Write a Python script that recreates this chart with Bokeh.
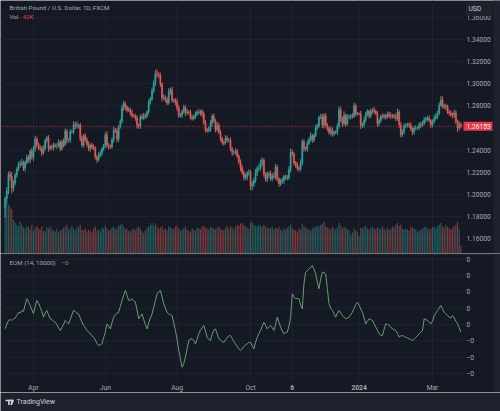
from bokeh.plotting import figure
from bokeh.models import Range1d, ColumnDataSource
from bokeh.layouts import column
from bokeh.core.properties import value
from bokeh.embed import file_html
from bokeh.resources import INLINE

# ---------------- data ----------------
first_open = 1.1880
closes = [
    1.1960, 1.2030, 1.2180, 1.2160, 1.2055, 1.2100, 1.2175, 1.2225, 1.2270, 1.2275,
    1.2285, 1.2235, 1.2290, 1.2335, 1.2310, 1.2390, 1.2335, 1.2410, 1.2500, 1.2455,
    1.2420, 1.2415, 1.2375, 1.2415, 1.2490, 1.2510, 1.2415, 1.2430, 1.2420, 1.2445,
    1.2440, 1.2440, 1.2470, 1.2415, 1.2475, 1.2450, 1.2570, 1.2490, 1.2490, 1.2565,
    1.2565, 1.2630, 1.2615, 1.2625, 1.2625, 1.2505, 1.2445, 1.2530, 1.2490, 1.2450,
    1.2415, 1.2445, 1.2425, 1.2415, 1.2340, 1.2315, 1.2350, 1.2370, 1.2410, 1.2440,
    1.2535, 1.2445, 1.2435, 1.2430, 1.2490, 1.2580, 1.2575, 1.2500, 1.2610, 1.2660,
    1.2780, 1.2820, 1.2790, 1.2760, 1.2765, 1.2735, 1.2710, 1.2710, 1.2690, 1.2625,
    1.2615, 1.2700, 1.2690, 1.2710, 1.2705, 1.2745, 1.2835, 1.2860, 1.2935, 1.3005,
    1.3090, 1.3085, 1.3075, 1.2995, 1.2870, 1.2875, 1.2855, 1.2825, 1.2925, 1.2945,
    1.2850, 1.2850, 1.2835, 1.2780, 1.2710, 1.2715, 1.2750, 1.2785, 1.2735, 1.2745,
    1.2740, 1.2700, 1.2685, 1.2705, 1.2725, 1.2740, 1.2735, 1.2750, 1.2725, 1.2650,
    1.2585, 1.2575, 1.2590, 1.2640, 1.2705, 1.2665, 1.2585, 1.2625, 1.2560, 1.2505,
    1.2470, 1.2465, 1.2510, 1.2490, 1.2490, 1.2410, 1.2380, 1.2380, 1.2390, 1.2345,
    1.2295, 1.2240, 1.2195, 1.2150, 1.2155, 1.2195, 1.2200, 1.2075, 1.2090, 1.2125,
    1.2195, 1.2235, 1.2235, 1.2290, 1.2305, 1.2185, 1.2135, 1.2180, 1.2185, 1.2140,
    1.2165, 1.2160, 1.2245, 1.2140, 1.2095, 1.2120, 1.2125, 1.2160, 1.2150, 1.2150,
    1.2225, 1.2380, 1.2365, 1.2285, 1.2270, 1.2235, 1.2230, 1.2285, 1.2475, 1.2415,
    1.2410, 1.2460, 1.2495, 1.2530, 1.2490, 1.2530, 1.2605, 1.2620, 1.2695, 1.2700,
    1.2625, 1.2710, 1.2630, 1.2595, 1.2560, 1.2580, 1.2545, 1.2560, 1.2560, 1.2615,
    1.2765, 1.2680, 1.2640, 1.2715, 1.2635, 1.2700, 1.2700, 1.2710, 1.2705, 1.2800,
    1.2730, 1.2730, 1.2730, 1.2620, 1.2630, 1.2670, 1.2720, 1.2750, 1.2710, 1.2750,
    1.2760, 1.2750, 1.2730, 1.2640, 1.2665, 1.2705, 1.2700, 1.2710, 1.2700, 1.2725,
    1.2710, 1.2705, 1.2710, 1.2700, 1.2685, 1.2745, 1.2630, 1.2540, 1.2570, 1.2620,
    1.2620, 1.2630, 1.2625, 1.2590, 1.2565, 1.2600, 1.2600, 1.2600, 1.2630, 1.2625,
    1.2645, 1.2670, 1.2685, 1.2690, 1.2665, 1.2625, 1.2655, 1.2690, 1.2705, 1.2735,
    1.2805, 1.2855, 1.2800, 1.2790, 1.2795, 1.2745, 1.2735, 1.2720, 1.2715, 1.2735,
    1.2655, 1.2600, 1.2635, 1.26153,
]
# upper / lower wick lengths in pips
wick_up = [
    20, 35, 25, 30, 40, 25, 15, 20, 25, 30, 35, 20, 15, 25, 20, 15, 30, 25, 30, 20,
    15, 25, 20, 30, 15, 20, 25, 15, 20, 25, 15, 20, 25, 20, 15, 30, 25, 20, 15, 25,
    20, 30, 25, 35, 15, 20, 25, 15, 20, 25, 30, 15, 20, 25, 20, 15, 30, 25, 20, 15,
    25, 35, 20, 15, 25, 30, 20, 25, 15, 20, 30, 25, 20, 15, 25, 20, 30, 15, 20, 25,
    15, 20, 30, 25, 20, 15, 25, 20, 30, 25, 35, 40, 20, 25, 15, 30, 20, 25, 35, 20,
    25, 15, 20, 30, 25, 20, 15, 25, 20, 30, 15, 25, 20, 15, 25, 20, 30, 15, 20, 25,
    20, 15, 25, 30, 20, 25, 15, 30, 20, 25, 15, 20, 25, 20, 15, 25, 20, 15, 25, 20,
    15, 20, 25, 20, 30, 15, 25, 20, 30, 25, 35, 20, 40, 25, 30, 20, 15, 25, 20, 30,
    25, 35, 30, 20, 15, 20, 25, 15, 20, 25, 30, 35, 25, 20, 15, 25, 20, 30, 25, 20,
    15, 25, 20, 30, 15, 20, 25, 20, 15, 25, 30, 20, 25, 15, 20, 30, 25, 15, 20, 25,
    30, 25, 20, 35, 15, 25, 20, 15, 25, 30, 20, 15, 10, 25, 20, 30, 25, 20, 15, 25,
    20, 30, 15, 25, 20, 15, 25, 20, 15, 25, 20, 30, 15, 20, 25, 30, 20, 25, 15, 20,
    25, 15, 20, 25, 15, 20, 25, 15, 20, 25, 20, 30, 15, 20, 25, 15, 20, 25, 30, 20,
    25, 35, 30, 20, 25, 15, 20, 25, 20, 30, 25, 20, 30, 15,
]
wick_dn = [
    90, 40, 30, 35, 45, 30, 20, 25, 15, 30, 20, 25, 30, 20, 25, 30, 20, 35, 25, 30,
    20, 25, 30, 15, 20, 25, 30, 20, 15, 25, 20, 30, 15, 25, 20, 25, 15, 30, 20, 25,
    15, 20, 25, 20, 30, 25, 20, 25, 15, 20, 25, 30, 20, 15, 25, 30, 20, 15, 25, 20,
    20, 25, 30, 20, 15, 25, 20, 30, 25, 15, 20, 25, 30, 20, 15, 25, 20, 15, 25, 30,
    20, 25, 15, 20, 25, 15, 20, 25, 15, 20, 25, 30, 20, 25, 30, 20, 25, 20, 15, 25,
    20, 25, 30, 25, 20, 15, 25, 20, 30, 15, 20, 25, 20, 15, 25, 20, 15, 25, 30, 20,
    25, 20, 15, 25, 30, 20, 25, 20, 15, 25, 20, 25, 15, 20, 25, 20, 30, 25, 20, 15,
    25, 30, 20, 25, 20, 30, 25, 35, 40, 25, 20, 30, 25, 20, 35, 30, 20, 25, 30, 20,
    25, 20, 30, 25, 30, 20, 25, 30, 20, 25, 20, 25, 20, 25, 30, 20, 25, 20, 25, 30,
    20, 25, 15, 20, 25, 20, 15, 25, 20, 15, 25, 30, 20, 25, 20, 30, 25, 20, 15, 25,
    20, 25, 30, 20, 25, 15, 20, 25, 20, 15, 25, 20, 15, 30, 20, 25, 20, 15, 25, 20,
    25, 20, 15, 30, 25, 20, 15, 20, 25, 15, 20, 25, 20, 15, 25, 20, 30, 25, 20, 25,
    20, 15, 25, 20, 30, 25, 20, 15, 20, 25, 15, 20, 25, 20, 15, 25, 20, 15, 20, 25,
    20, 15, 25, 20, 30, 20, 25, 20, 30, 25, 20, 35, 25, 20,
]
# volume in thousands
volume_k = [
    250, 265, 255, 245, 230, 175, 160, 150, 140, 165, 150, 135, 130, 145, 140, 125, 150, 120, 135, 145,
    130, 125, 140, 120, 115, 135, 130, 140, 125, 120, 115, 130, 110, 120, 125, 135, 140, 150, 125, 130,
    145, 130, 120, 135, 140, 150, 125, 120, 130, 115, 125, 120, 110, 130, 140, 120, 125, 115, 135, 130,
    145, 130, 120, 125, 135, 140, 125, 130, 145, 150, 155, 140, 125, 130, 120, 115, 125, 130, 120, 135,
    140, 130, 115, 105, 120, 135, 140, 150, 160, 145, 155, 140, 130, 135, 145, 125, 130, 120, 140, 135,
    130, 125, 140, 145, 130, 120, 125, 130, 140, 125, 120, 115, 130, 125, 120, 135, 130, 125, 140, 145,
    135, 130, 125, 140, 135, 130, 125, 135, 140, 130, 125, 120, 135, 145, 130, 140, 135, 125, 140, 150,
    145, 155, 160, 150, 140, 135, 130, 160, 165, 150, 145, 140, 150, 145, 135, 150, 140, 130, 135, 130,
    140, 125, 135, 130, 140, 125, 120, 130, 125, 135, 140, 150, 130, 125, 120, 115, 130, 125, 155, 140,
    135, 130, 125, 120, 130, 140, 135, 145, 140, 150, 155, 165, 140, 135, 130, 125, 140, 130, 125, 135,
    160, 145, 130, 140, 135, 125, 120, 95, 110, 130, 120, 115, 90, 135, 130, 140, 145, 130, 125, 135,
    140, 130, 125, 135, 130, 125, 140, 130, 120, 135, 125, 130, 140, 135, 150, 160, 145, 150, 130, 125,
    130, 125, 120, 140, 135, 130, 125, 115, 120, 125, 130, 135, 140, 130, 125, 130, 135, 140, 130, 145,
    150, 160, 140, 135, 150, 140, 130, 125, 135, 140, 150, 165, 130, 42,
]
# EOM (14, 10000), in units of one axis step
eom = [
    -0.26, 0.0, 0.25, 0.3, 0.25, 0.35, 0.4, 0.55, 0.75, 0.7,
    0.86, 0.8, 1.2, 1.58, 1.4, 1.17, 0.9, 0.67, 1.1, 1.47,
    1.3, 1.06, 0.8, 0.45, 0.7, 0.86, 0.6, 0.35, 0.3, 0.2,
    0.14, 0.0, -0.2, -0.37, -0.2, 0.0, 0.25, 0.15, 0.04, 0.3,
    0.6, 0.86, 0.8, 0.7, 0.65, 0.4, 0.15, -0.06, -0.2, -0.35,
    -0.47, -0.55, -0.7, -0.78, -0.95, -1.15, -1.29, -1.25, -1.19, -0.8,
    -0.47, 0.04, -0.1, -0.27, 0.1, 0.45, 0.6, 0.7, 0.75, 1.1,
    1.47, 1.8, 2.09, 1.8, 1.47, 1.5, 1.58, 1.45, 1.38, 0.9,
    0.35, 0.5, 0.65, 0.3, 0.0, -0.27, 0.1, 0.4, 0.65, 1.05,
    1.47, 1.88, 2.0, 2.09, 1.7, 1.27, 1.0, 0.75, 0.65, 0.6,
    0.55, 0.1, -0.37, -0.9, -1.6, -2.1, -2.62, -2.4, -2.0, -1.5,
    -0.98, -0.9, -0.88, -1.0, -1.19, -0.9, -0.57, -0.35, -0.2, -0.06,
    -0.4, -0.78, -0.9, -0.98, -0.6, -0.35, -0.27, -0.55, -0.88, -0.95,
    -1.05, -1.09, -0.95, -0.8, -0.7, -0.68, -0.85, -1.05, -1.19, -1.35,
    -1.5, -1.6, -1.5, -1.35, -1.25, -1.19, -1.1, -1.09, -1.3, -1.49,
    -1.1, -0.78, -0.55, -0.37, -0.1, 0.14, -0.05, -0.27, -0.15, -0.06,
    -0.2, -0.37, 0.0, 0.45, 0.15, -0.16, -0.4, -0.57, -0.5, -0.47,
    -0.1, 0.45, 1.88, 1.7, 1.58, 1.6, 1.58, 1.2, 0.96, 2.5,
    3.21, 3.3, 3.42, 3.5, 3.62, 3.4, 3.11, 2.6, 2.19, 2.8,
    3.21, 3.2, 3.11, 2.2, 1.27, 1.0, 0.86, 0.65, 0.45, 0.7,
    0.86, 0.7, 0.55, 0.45, 0.35, 0.4, 0.45, 0.6, 0.75, 1.0,
    1.2, 1.37, 1.2, 0.95, 0.75, 0.4, 0.04, 0.2, 0.35, 0.3,
    0.25, 0.05, -0.16, -0.35, -0.57, -0.65, -0.68, -0.3, 0.04, 0.0,
    -0.06, -0.15, -0.27, -0.3, -0.37, -0.55, -0.78, -0.7, -0.68, -0.72,
    -0.78, -0.82, -0.88, -0.92, -0.98, -0.9, -0.78, -0.68, -0.57, -0.45,
    -0.37, 0.35, 0.3, 0.25, 0.15, 0.04, 0.2, 0.55, 0.7, 0.86,
    1.0, 1.17, 0.95, 0.75, 0.65, 0.55, 0.45, 0.4, 0.55, 0.4,
    0.2, 0.04, -0.2, -0.47,
]
# time axis: bar index of each labelled date
time_ticks = [17, 60, 103, 147, 172, 212, 256]
time_labels = ["Apr", "Jun", "Aug", "Oct", "6", "2024", "Mar"]
time_bold = [False, False, False, False, True, True, False]
price_ticks = [1.16, 1.18, 1.20, 1.22, 1.24, 1.26, 1.28, 1.30, 1.32, 1.34, 1.36]
eom_ticks = [-3, -2, -1, 0, 1, 2, 3, 4]
eom_tick_labels = ["\u22120", "\u22120", "\u22120", "0", "0", "0", "0", "0"]
last_price = 1.26153
last_volume = "42K"
eom_last = "\u22120"

# ---------------- styling / layout constants ----------------
BG = "#151924"
FOOT = "#1e222d"
GRID = "#1f2331"
SEP = "#2a2e39"
TXT = "#a6a9b2"
UP = "#26a69a"
DN = "#ef5350"
RED = "#f23645"
EOM_C = "#65a06c"
FONT = "Roboto"
W = 500
H1, H2, H3 = 253, 139, 19
PANE_R = 463       # right edge of plotting area (px)
AX_L = 466         # left of price-scale labels (px)
BORDER = 493       # start of outer border strip (px)

BAR_PX = 1.6695    # px per bar
X0 = -2.77
X1 = X0 + W / BAR_PX
P_TOP, P_PX = 1.37527, 1105.6      # price at top edge, px per price unit
E_TOP, E_PX = 4.356, 16.3          # EOM at top edge of its pane, px per unit


def px2x(px):
    return X0 + px / BAR_PX


def py2p(py):
    return P_TOP - py / P_PX


def py2e(py):
    return E_TOP - py / E_PX


n = len(closes)
idx = list(range(n))
opens = [first_open] + closes[:-1]
highs = [max(o, c) + u * 0.0001 for o, c, u in zip(opens, closes, wick_up)]
lows = [min(o, c) - d * 0.0001 for o, c, d in zip(opens, closes, wick_dn)]
colors = [UP if c >= o else DN for o, c in zip(opens, closes)]
src = ColumnDataSource(dict(x=idx, high=highs, low=lows,
                            top=[max(o, c) for o, c in zip(opens, closes)],
                            bottom=[min(o, c) for o, c in zip(opens, closes)],
                            color=colors, vol=volume_k))

xr = Range1d(X0, X1)


def make_fig(h, yr, bg=BG):
    f = figure(width=W, height=h, x_range=xr, y_range=yr, x_axis_location=None,
               y_axis_location=None, toolbar_location=None, output_backend="svg",
               min_border=0, background_fill_color=bg, border_fill_color=bg,
               outline_line_color=None)
    f.grid.visible = False
    return f


def txt(fig, xs, ys, texts, color=TXT, size="6.7px", style="normal", align="left"):
    fig.text(x=xs, y=ys, text=texts, text_font=value(FONT), text_font_size=size,
             text_color=color, text_font_style=style, text_align=align,
             text_baseline="middle")


# ---------------- price pane ----------------
p1 = make_fig(H1, Range1d(py2p(H1), P_TOP))
p1.extra_y_ranges = {"vol": Range1d(0, 1317)}
# grid
p1.segment(x0=[X0] * len(price_ticks), x1=[px2x(PANE_R)] * len(price_ticks),
           y0=price_ticks, y1=price_ticks, line_color=GRID, line_width=1)
p1.segment(x0=time_ticks, x1=time_ticks, y0=[py2p(H1)] * len(time_ticks),
           y1=[P_TOP] * len(time_ticks), line_color=GRID, line_width=1)
# volume + candles
p1.vbar(x="x", top="vol", width=0.7, y_range_name="vol", source=src,
        fill_color="color", line_color=None, fill_alpha=0.5)
p1.segment(x0="x", y0="low", x1="x", y1="high", source=src, line_color="color", line_width=1)
p1.vbar(x="x", top="top", bottom="bottom", width=0.7, source=src,
        fill_color="color", line_color="color", line_width=0.5)
# last-price dotted line
p1.segment(x0=[X0], x1=[px2x(PANE_R)], y0=[last_price], y1=[last_price],
           line_color=RED, line_dash="1 2", line_width=1, line_alpha=0.8)
# price scale
txt(p1, [px2x(AX_L)] * len(price_ticks), price_ticks, ["%.5f" % t for t in price_ticks])
p1.quad(left=[px2x(465)], right=[px2x(492)], top=[py2p(1.5)], bottom=[py2p(15.5)],
        fill_color=FOOT, line_color=None)
txt(p1, [px2x(468)], [py2p(8)], ["USD"], color="#c8cad1")
p1.quad(left=[px2x(PANE_R)], right=[px2x(492)], top=[last_price + 4.6 / P_PX],
        bottom=[last_price - 4.6 / P_PX], fill_color=RED, line_color=None)
txt(p1, [px2x(AX_L)], [last_price], ["%.5f" % last_price], color="#ffffff")
# legend texts
txt(p1, [px2x(9)], [py2p(7)], ["British Pound / U.S. Dollar, 1D, FXCM"], size="6.2px")
txt(p1, [px2x(9)], [py2p(16.5)], ["Vol"], size="6.2px")
txt(p1, [px2x(22)], [py2p(16.5)], [last_volume], color=RED, size="6.2px")
# outer border strip
p1.quad(left=[px2x(BORDER)], right=[X1], top=[P_TOP], bottom=[py2p(H1)],
        fill_color=FOOT, line_color=None)

# ---------------- EOM pane ----------------
p2 = make_fig(H2, Range1d(py2e(H2), E_TOP))
p2.segment(x0=[X0] * len(eom_ticks), x1=[px2x(PANE_R)] * len(eom_ticks),
           y0=eom_ticks, y1=eom_ticks, line_color=GRID, line_width=1)
p2.segment(x0=time_ticks, x1=time_ticks, y0=[py2e(128)] * len(time_ticks),
           y1=[E_TOP] * len(time_ticks), line_color=GRID, line_width=1)
p2.segment(x0=[X0], x1=[px2x(BORDER)], y0=[py2e(0.5)], y1=[py2e(0.5)],
           line_color=SEP, line_width=1)
p2.line(idx, eom, line_color=EOM_C, line_width=1)
txt(p2, [px2x(AX_L)] * len(eom_ticks), eom_ticks, eom_tick_labels)
txt(p2, [px2x(9)], [py2e(9)], ["EOM (14, 10000)"], size="6.2px")
txt(p2, [px2x(61)], [py2e(9)], [eom_last], color=EOM_C, size="6.2px")
for t, s, b in zip(time_ticks, time_labels, time_bold):
    txt(p2, [t], [py2e(134)], [s], style="bold" if b else "normal", align="center")
p2.quad(left=[px2x(BORDER)], right=[X1], top=[E_TOP], bottom=[py2e(H2)],
        fill_color=FOOT, line_color=None)

# ---------------- footer ----------------
p3 = figure(width=W, height=H3, x_range=Range1d(0, W), y_range=Range1d(0, H3),
            x_axis_location=None, y_axis_location=None, toolbar_location=None,
            output_backend="svg", min_border=0, background_fill_color=FOOT,
            border_fill_color=FOOT, outline_line_color=None)
p3.grid.visible = False
LOGO = "#d1d4dc"
p3.quad(left=[5.0, 7.6], right=[9.2, 9.2], top=[11.8, 11.8], bottom=[10.2, 6.6],
        fill_color=LOGO, line_color=None)
p3.scatter(x=[10.6], y=[11.1], size=2.2, marker="circle", fill_color=LOGO, line_color=None)
p3.patch(x=[11.2, 13.6, 11.6, 9.8], y=[11.8, 11.8, 6.6, 6.6], fill_color=LOGO, line_color=None)
p3.text(x=[16], y=[9.3], text=["TradingView"], text_font=value(FONT), text_font_size="7px",
        text_color=LOGO, text_baseline="middle")

layout = column(p1, p2, p3, spacing=0)
open("out.html", "w").write(file_html(layout, INLINE))
